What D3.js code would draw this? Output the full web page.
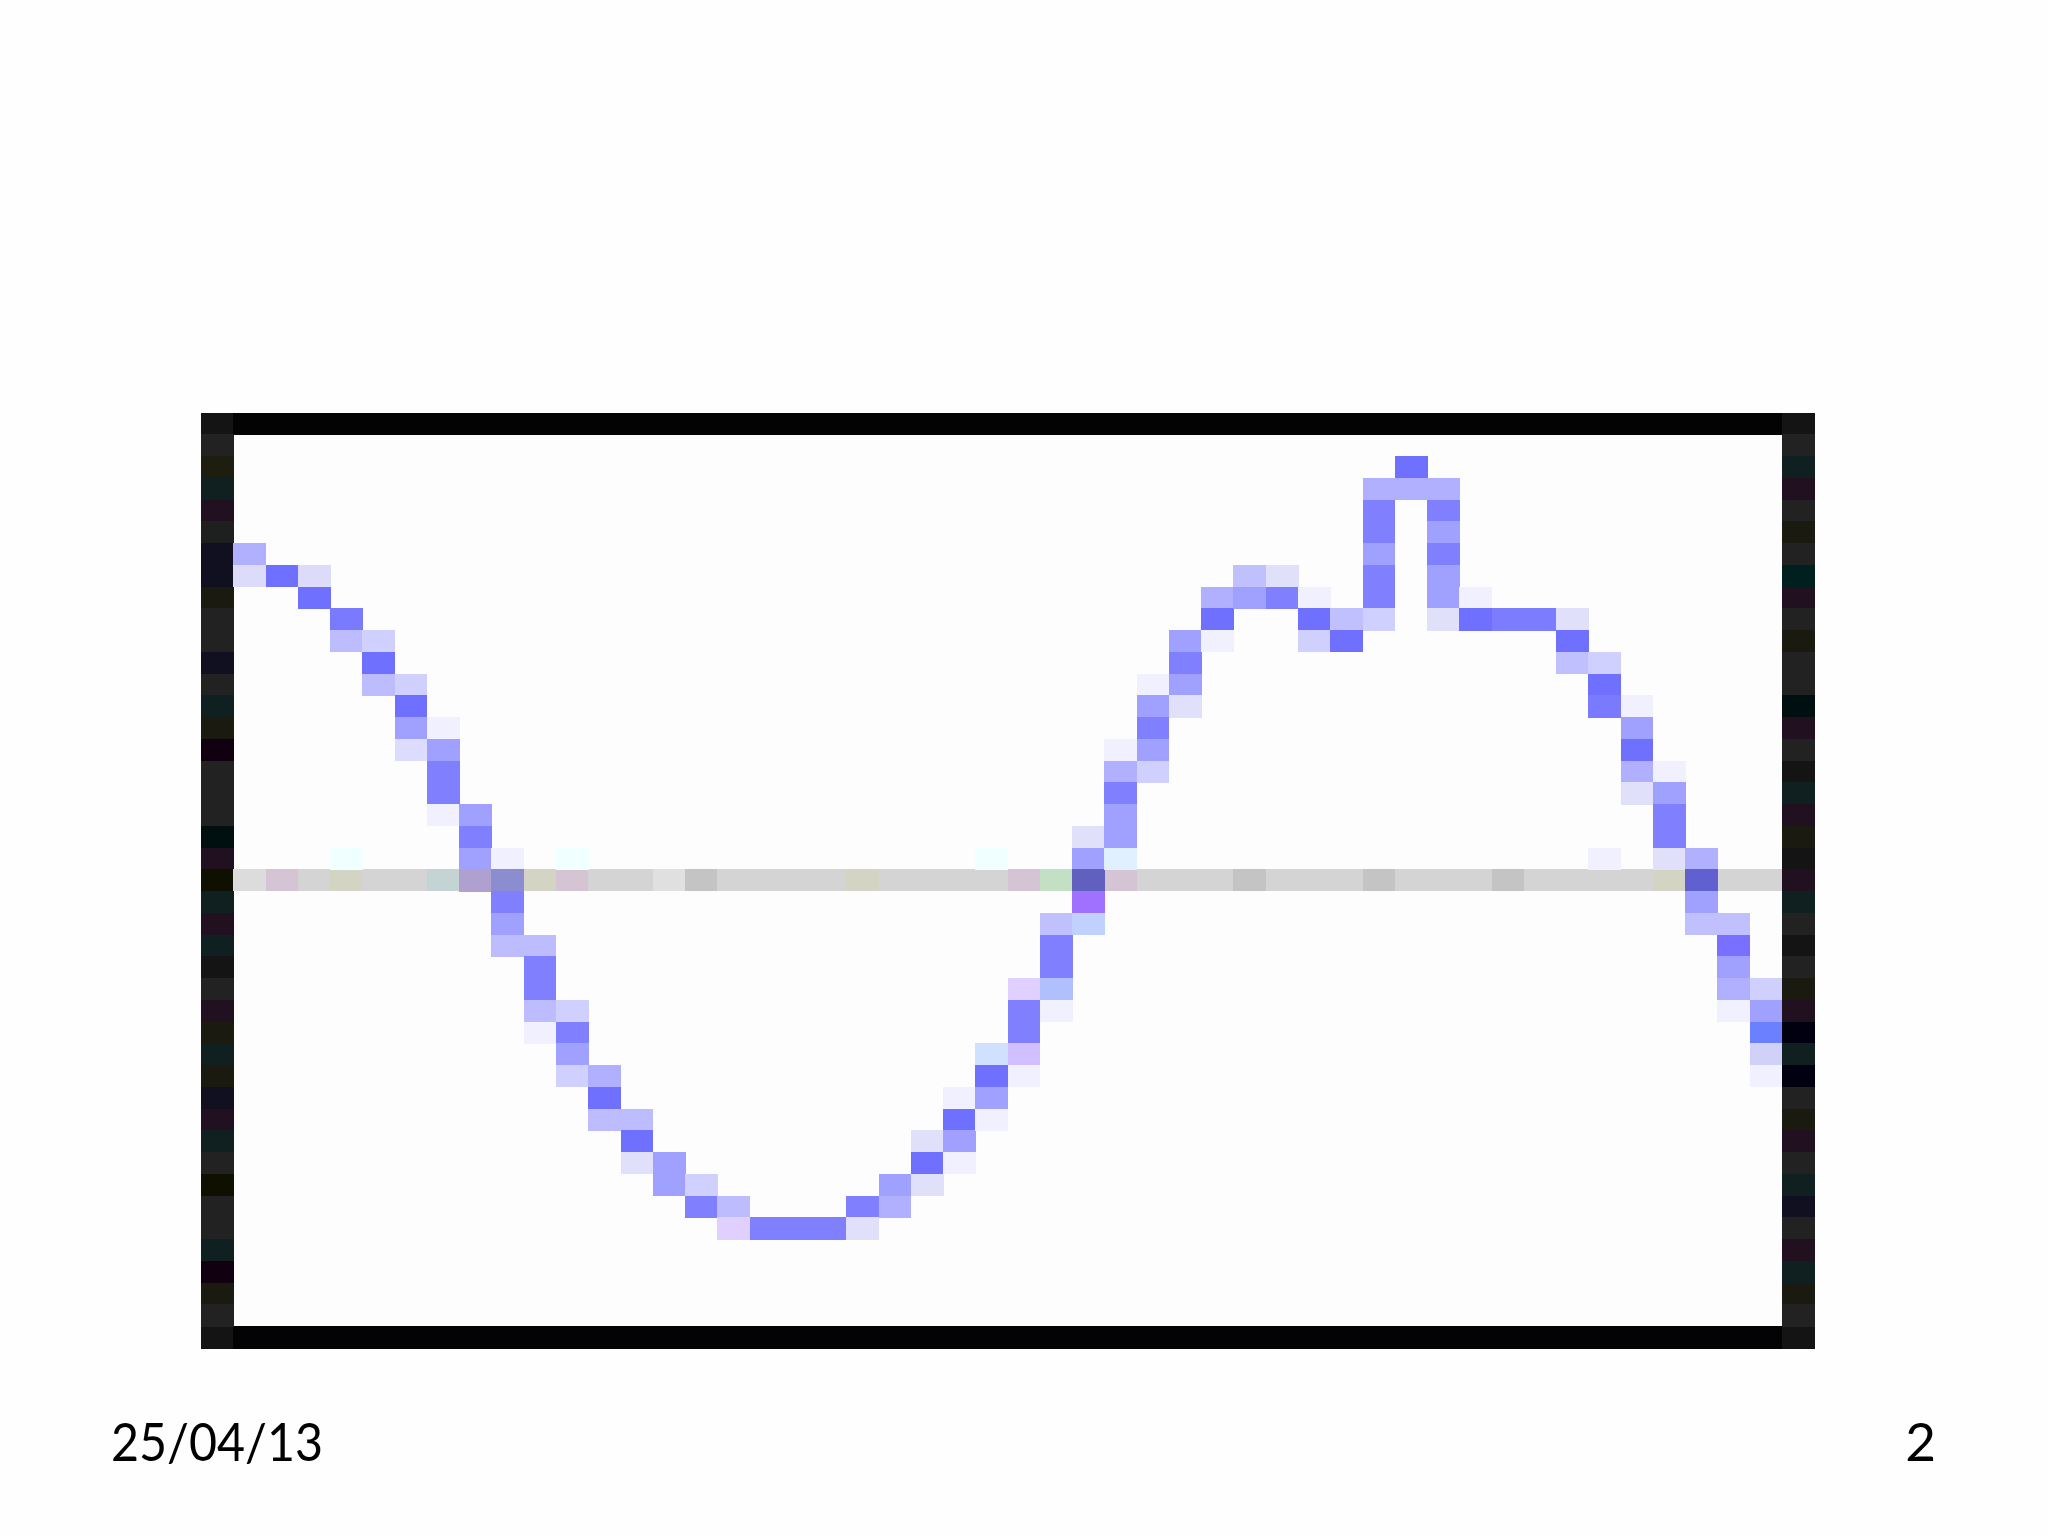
<!DOCTYPE html>
<html>
<head>
<meta charset="utf-8">
<script src="https://cdn.jsdelivr.net/npm/d3@7"></script>
<style>
  html, body { margin: 0; padding: 0; background: #fefefe; }
  svg { display: block; }
</style>
</head>
<body>
<script>
// ---- grid (low-resolution bitmap) ----
const columns = d3.range(50);      // 0 and 49 are frame columns
const rows = d3.range(43);         // 0 and 42 are frame rows
const axisRow = 21;

// zero-line shades for columns 1..48
const axisShades = [
  "#dcdcdc","#d4c4d4","#d4d4d4","#d4d4c4","#d4d4d4","#d4d4d4","#c4d4d4","#b0a0d0",
  "#8c8cd0","#d4d4c4","#d4c4d4","#d4d4d4","#d4d4d4","#e0e0e0","#c4c4c4","#d4d4d4",
  "#d4d4d4","#d4d4d4","#d4d4d4","#d4d4c4","#d4d4d4","#d4d4d4","#d4d4d4","#d4d4d4",
  "#d4c4d4","#c4e0c4","#6060c0","#d4c4d4","#d4d4d4","#d4d4d4","#d4d4d4","#c4c4c4",
  "#d4d4d4","#d4d4d4","#d4d4d4","#c4c4c4","#d4d4d4","#d4d4d4","#d4d4d4","#c4c4c4",
  "#d4d4d4","#d4d4d4","#d4d4d4","#d4d4d4","#d4d4c4","#6060d0","#d4d4d4","#d4d4d4"
];

// frame column tints, rows 0..42
const leftEdge = [
  "#141414","#222222","#1e1e10","#102020","#201020","#1e2020","#101020","#101020","#1a1a10",
  "#222222","#222222","#101020","#222222","#102020","#1a1a10","#100010","#222222","#222222",
  "#222222","#001010","#201020","#101000","#102020","#201020","#102020","#141414","#222222",
  "#201020","#1a1a10","#102020","#1a1a10","#101020","#201020","#102020","#222222","#101000",
  "#222222","#222222","#102020","#100010","#1a1a10","#222222","#141414"
];
const rightEdge = [
  "#141414","#222222","#102020","#201020","#222222","#1a1a10","#222222","#002020","#201020",
  "#222222","#1a1a10","#222222","#222222","#001010","#201020","#222222","#141414","#102020",
  "#201020","#1a1a10","#141414","#201020","#102020","#222222","#141414","#222222","#1a1a10",
  "#201020","#000010","#102020","#000010","#222222","#1a1a10","#201020","#222222","#102020",
  "#101020","#222222","#201020","#102020","#1a1a10","#222222","#141414"
];

// trace cells: [column, row, shade]
const traceCells = [
  [1,6,"#b0b0ff"],[1,7,"#dcdcfa"],
  [2,7,"#7070ff"],
  [3,7,"#dcdcfa"],[3,8,"#7070ff"],
  [4,9,"#7a7aff"],[4,10,"#bcbcff"],[4,20,"#f0ffff"],
  [5,10,"#d0d0ff"],[5,11,"#7070ff"],[5,12,"#bcbcff"],
  [6,12,"#d0d0ff"],[6,13,"#7070ff"],[6,14,"#a0a0ff"],[6,15,"#dcdcff"],
  [7,14,"#f0f0ff"],[7,15,"#a0a0ff"],[7,16,"#8080ff"],[7,17,"#8080ff"],[7,18,"#f0f0ff"],
  [8,18,"#a0a0ff"],[8,19,"#8080ff"],[8,20,"#a0a0ff"],[8,21,"#b0a0d0"],
  [9,20,"#f0f0ff"],[9,21,"#8c8cd0"],[9,22,"#8080ff"],[9,23,"#a0a0ff"],[9,24,"#bcbcff"],
  [10,24,"#bcbcff"],[10,25,"#8080ff"],[10,26,"#8080ff"],[10,27,"#bcbcff"],[10,28,"#f0f0ff"],
  [11,20,"#f0ffff"],[11,27,"#d0d0ff"],[11,28,"#8080ff"],[11,29,"#a0a0ff"],[11,30,"#d0d0ff"],
  [12,30,"#b0b0ff"],[12,31,"#7070ff"],[12,32,"#bcbcff"],
  [13,32,"#bcbcff"],[13,33,"#7070ff"],[13,34,"#e0e0fa"],
  [14,34,"#a0a0ff"],[14,35,"#a0a0ff"],
  [15,35,"#d0d0ff"],[15,36,"#8080ff"],
  [16,36,"#bcbcff"],[16,37,"#e0d0ff"],
  [17,37,"#8080ff"],[18,37,"#8080ff"],[19,37,"#8080ff"],
  [20,36,"#8080ff"],[20,37,"#e0e0fa"],
  [21,35,"#a0a0ff"],[21,36,"#b0b0ff"],
  [22,33,"#e0e0fa"],[22,34,"#7070ff"],[22,35,"#e0e0fa"],
  [23,31,"#f0f0ff"],[23,32,"#7070ff"],[23,33,"#a0a0ff"],[23,34,"#f0f0ff"],
  [24,20,"#f0ffff"],[24,29,"#d0e0ff"],[24,30,"#7070ff"],[24,31,"#a0a0ff"],[24,32,"#f0f0ff"],
  [25,26,"#e0d0ff"],[25,27,"#8080ff"],[25,28,"#8080ff"],[25,29,"#d0c0ff"],[25,30,"#f0f0ff"],
  [26,23,"#c0c0ff"],[26,24,"#8080ff"],[26,25,"#8080ff"],[26,26,"#b0c0ff"],[26,27,"#f0f0ff"],
  [27,19,"#e0e0fa"],[27,20,"#a0a0ff"],[27,21,"#6060c0"],[27,22,"#a070ff"],[27,23,"#c0d0ff"],
  [28,15,"#f0f0ff"],[28,16,"#b0b0ff"],[28,17,"#8080ff"],[28,18,"#a0a0ff"],[28,19,"#a0a0ff"],[28,20,"#e0f0ff"],
  [29,12,"#f0f0ff"],[29,13,"#a0a0ff"],[29,14,"#8080ff"],[29,15,"#a0a0ff"],[29,16,"#d0d0ff"],
  [30,10,"#a0a0ff"],[30,11,"#8080ff"],[30,12,"#a0a0ff"],[30,13,"#e0e0fa"],
  [31,8,"#b0b0ff"],[31,9,"#7070ff"],[31,10,"#f0f0ff"],
  [32,7,"#c0c0ff"],[32,8,"#a0a0ff"],
  [33,7,"#e0e0fa"],[33,8,"#8080ff"],
  [34,8,"#f0f0ff"],[34,9,"#7070ff"],[34,10,"#d0d0ff"],
  [35,9,"#c0c0ff"],[35,10,"#7070ff"],
  [36,3,"#b0b0ff"],[36,4,"#8080ff"],[36,5,"#8080ff"],[36,6,"#a0a0ff"],[36,7,"#8080ff"],[36,8,"#8080ff"],[36,9,"#d0d0ff"],
  [37,2,"#7070ff"],[37,3,"#b0b0ff"],
  [38,3,"#b0b0ff"],[38,4,"#8080ff"],[38,5,"#a0a0ff"],[38,6,"#8080ff"],[38,7,"#a0a0ff"],[38,8,"#a0a0ff"],[38,9,"#e0e0fa"],
  [39,8,"#f0f0ff"],[39,9,"#7070ff"],
  [40,9,"#7c7cff"],[41,9,"#7c7cff"],
  [42,9,"#e0e0fa"],[42,10,"#7070ff"],[42,11,"#c0c0ff"],
  [43,11,"#d0d0ff"],[43,12,"#7070ff"],[43,13,"#7a7aff"],[43,20,"#f0f0ff"],
  [44,13,"#f0f0ff"],[44,14,"#a0a0ff"],[44,15,"#7070ff"],[44,16,"#b0b0ff"],[44,17,"#e0e0fa"],
  [45,16,"#f0f0ff"],[45,17,"#a0a0ff"],[45,18,"#8080ff"],[45,19,"#8080ff"],[45,20,"#e0e0fa"],
  [46,20,"#b0b0ff"],[46,21,"#6060d0"],[46,22,"#a0a0ff"],[46,23,"#c0c0ff"],
  [47,23,"#c0c0ff"],[47,24,"#7a70ff"],[47,25,"#a0a0ff"],[47,26,"#b0b0ff"],[47,27,"#f0f0ff"],
  [48,26,"#d0d0ff"],[48,27,"#a0a0ff"],[48,28,"#6a80ff"],[48,29,"#d0d0f8"],[48,30,"#f0f0ff"]
];

const footerDate = "25/04/13";
const footerPage = "2";

// ---- drawing ----
const W = 2048, H = 1536;
const svg = d3.select("body").append("svg")
  .attr("width", W).attr("height", H)
  .style("background", "#fefefe");

const x = d3.scaleBand().domain(columns).range([201.1, 1814.2]).padding(0);
const y = d3.scaleBand().domain(rows).range([412.7, 1348]).padding(0);

const g = svg.append("g").attr("shape-rendering", "crispEdges");

// inner background
g.append("rect")
  .attr("x", x(1)).attr("y", y(1))
  .attr("width", x(48) + x.bandwidth() - x(1))
  .attr("height", y(41) + y.bandwidth() - y(1))
  .attr("fill", "#fdfdfd");

// frame: top and bottom rows, side columns
const frameCells = [];
columns.forEach(c => {
  if (c === 0) { frameCells.push([c, 0, leftEdge[0]]); frameCells.push([c, 42, leftEdge[42]]); }
  else if (c === 49) { frameCells.push([c, 0, rightEdge[0]]); frameCells.push([c, 42, rightEdge[42]]); }
  else { frameCells.push([c, 0, "#030303"]); frameCells.push([c, 42, "#030306"]); }
});
rows.slice(1, 42).forEach(r => {
  frameCells.push([0, r, leftEdge[r]]);
  frameCells.push([49, r, rightEdge[r]]);
});

g.selectAll("rect.frame").data(frameCells).join("rect")
  .attr("class", "frame")
  .attr("x", d => x(d[0])).attr("y", d => y(d[1]))
  .attr("width", x.bandwidth() + 0.5).attr("height", y.bandwidth() + 0.5)
  .attr("fill", d => d[2]);

// zero line
g.selectAll("rect.axis").data(axisShades).join("rect")
  .attr("class", "axis")
  .attr("x", (d, i) => x(i + 1)).attr("y", y(axisRow))
  .attr("width", x.bandwidth() + 0.5).attr("height", y.bandwidth())
  .attr("fill", d => d);

// trace
g.selectAll("rect.trace").data(traceCells).join("rect")
  .attr("class", "trace")
  .attr("x", d => x(d[0])).attr("y", d => y(d[1]))
  .attr("width", x.bandwidth() + 0.5).attr("height", y.bandwidth() + 0.5)
  .attr("fill", d => d[2]);

// footer
svg.append("text")
  .attr("x", 111).attr("y", 1461)
  .attr("font-family", "Lato, 'Open Sans', sans-serif")
  .attr("font-size", 53)
  .attr("textLength", 212)
  .attr("lengthAdjust", "spacingAndGlyphs")
  .attr("fill", "#000")
  .text(footerDate);

svg.append("text")
  .attr("x", 1936).attr("y", 1461)
  .attr("text-anchor", "end")
  .attr("font-family", "Lato, 'Open Sans', sans-serif")
  .attr("font-size", 53)
  .attr("fill", "#000")
  .text(footerPage);
</script>
</body>
</html>
